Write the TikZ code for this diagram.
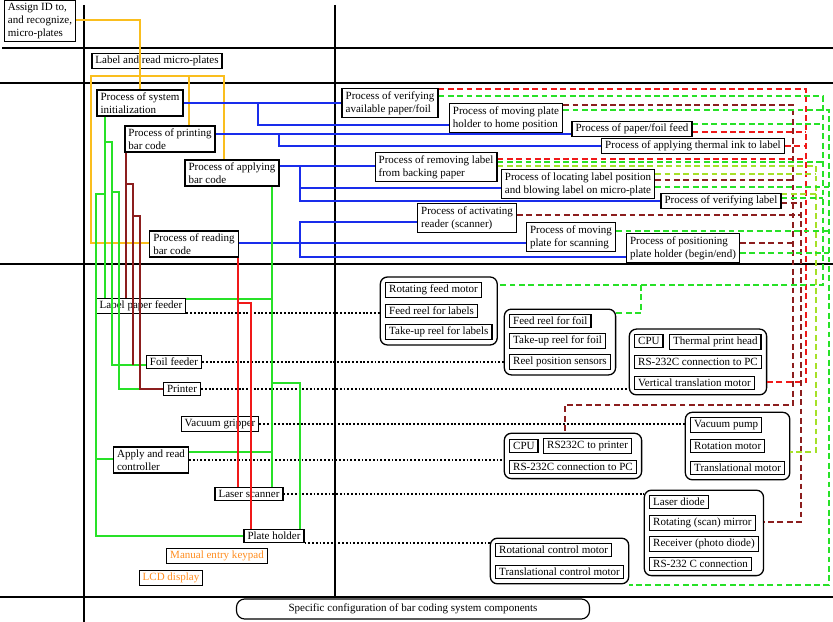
\documentclass[tikz,border=0pt]{standalone}
\usepackage{fontspec}
\setmainfont{Liberation Serif}
\usetikzlibrary{fit}
\definecolor{cOr}{RGB}{250,190,30}
\definecolor{cBl}{RGB}{25,45,235}
\definecolor{cGr}{RGB}{40,225,40}
\definecolor{cBr}{RGB}{140,30,30}
\definecolor{cRd}{RGB}{240,25,25}
\definecolor{cLi}{RGB}{165,225,40}
\definecolor{cKey}{RGB}{255,140,30}
\begin{document}
\begin{tikzpicture}[x=0.03cm,y=-0.03cm,
  every node/.style={font=\fontsize{9.4}{11.2}\selectfont},
  box/.style={draw,line width=1.1pt,inner xsep=3pt,inner ysep=2.2pt,align=left},
  item/.style={box,anchor=west},
  grp/.style={draw,line width=1.1pt,rounded corners=6pt,inner sep=4pt},
  rule/.style={line width=1.2pt},
  dot/.style={line width=2.2pt,dash pattern=on 1.6pt off 1.6pt},
  ln/.style={line width=1pt},
  dsh/.style={line width=1pt,dash pattern=on 5pt off 3pt}]
\useasboundingbox (0,0) rectangle (833,622);
% rules
\draw[rule] (84,5) -- (84,622);
\draw[rule] (335,5) -- (335,597);
\draw[rule] (2,48) -- (833,48);
\draw[rule] (0,83) -- (833,83);
\draw[rule] (0,264) -- (833,264);
\draw[rule] (0,597) -- (833,597);
\node[draw,line width=1pt,rounded corners=7pt,minimum width=353*0.03cm,minimum height=20*0.03cm] (spec) at (413,609) {Specific configuration of bar coding system components};
% top nodes
\node[box] (assign) at (40,21) {Assign ID to,\\and recognize,\\micro-plates};
\node[box] (label) at (157,61) {Label and read micro-plates};
\node[box] (sys) at (140,103) {Process of system\\initialization};
\node[box] (print) at (170,139) {Process of printing\\bar code};
\node[box] (apply) at (232,173) {Process of applying\\bar code};
\node[box] (read) at (194,244) {Process of reading\\bar code};
% right processes
\node[box] (verav) at (390,103) {Process of verifying\\available paper/foil};
\node[box] (home) at (506,118) {Process of moving plate\\holder to home position};
\node[box] (feed) at (632,129) {Process of paper/foil feed};
\node[box] (ink) at (693,146) {Process of applying thermal ink to label};
\node[box] (remove) at (436,167) {Process of removing label\\from backing paper};
\node[box] (locate) at (578,184) {Process of locating label position\\and blowing label on micro-plate};
\node[box] (verlab) at (721,201) {Process of verifying label};
\node[box] (activ) at (467,218) {Process of activating\\reader (scanner)};
\node[box] (mscan) at (571,237) {Process of moving\\plate for scanning};
\node[box] (posit) at (683,248) {Process of positioning\\plate holder (begin/end)};
% components
\node[box] (lpf) at (141,306) {Label paper feeder};
\node[box] (foil) at (174,362) {Foil feeder};
\node[box] (printer) at (182,389) {Printer};
\node[box] (vac) at (220,424) {Vacuum gripper};
\node[box] (arc) at (151,460) {Apply and read\\controller};
\node[box] (laser) at (249,494) {Laser scanner};
\node[box] (plate) at (274,536) {Plate holder};
\node[box,text=cKey] (key) at (217,556) {Manual entry keypad};
\node[box,text=cKey] (lcd) at (171,578) {LCD display};
% groups
\node[item] (a1) at (385,290) {Rotating feed motor};
\node[item] (a2) at (385,311) {Feed reel for labels};
\node[item] (a3) at (385,332) {Take-up reel for labels};
\node[grp,fit=(a1)(a2)(a3)] (g1) {};
\node[item] (b1) at (509,321) {Feed reel for foil};
\node[item] (b2) at (509,341) {Take-up reel for foil};
\node[item] (b3) at (509,362) {Reel position sensors};
\node[grp,fit=(b1)(b2)(b3)] (g2) {};
\node[item] (c1) at (634,341) {CPU};
\node[item] (c2) at (669,342) {Thermal print head};
\node[item] (c3) at (634,362) {RS-232C connection to PC};
\node[item] (c4) at (634,383) {Vertical translation motor};
\node[grp,fit=(c1)(c2)(c3)(c4)] (g3) {};
\node[item] (d1) at (509,446) {CPU};
\node[item] (d2) at (543,446) {RS232C to printer};
\node[item] (d3) at (509,467) {RS-232C connection to PC};
\node[grp,fit=(d1)(d2)(d3)] (g4) {};
\node[item] (e1) at (690,425) {Vacuum pump};
\node[item] (e2) at (690,446) {Rotation motor};
\node[item] (e3) at (690,468) {Translational motor};
\node[grp,fit=(e1)(e2)(e3)] (g5) {};
\node[item] (f1) at (649,502) {Laser diode};
\node[item] (f2) at (649,523) {Rotating (scan) mirror};
\node[item] (f3) at (649,544) {Receiver (photo diode)};
\node[item] (f4) at (649,564) {RS-232 C connection};
\node[grp,fit=(f1)(f2)(f3)(f4)] (g6) {};
\node[item] (h1) at (495,550) {Rotational control motor};
\node[item] (h2) at (495,572) {Translational control motor};
\node[grp,fit=(h1)(h2)] (g7) {};
% dotted
\draw[dot] (lpf.east|-0,313) -- (g1.west|-0,313);
\draw[dot] (foil.east) -- (g2.west|-foil.east);
\draw[dot] (printer.east) -- (g3.west|-printer.east);
\draw[dot] (vac.east) -- (g5.west|-vac.east);
\draw[dot] (arc.east|-0,460) -- (g4.west|-0,460);
\draw[dot] (laser.east) -- (g6.west|-laser.east);
\draw[dot] (plate.east|-0,543) -- (g7.west|-0,543);
% orange
\draw[ln,cOr] (assign.east|-0,20) -| (sys.north-|140,0);
\draw[ln,cOr] (read.west|-0,243) -| (91,76) -| (apply.north-|224,0);
\draw[ln,cOr] (189,76) -- (print.north-|189,0);
% blue
\draw[ln,cBl] (sys.east|-0,103) -- (verav.west|-0,103);
\draw[ln,cBl] (258,103) |- (home.west|-0,125);
\draw[ln,cBl] (print.east|-0,134) -- (feed.west|-0,134);
\draw[ln,cBl] (279,134) |- (ink.west|-0,146);
\draw[ln,cBl] (apply.east|-0,166) -- (remove.west|-0,166);
\draw[ln,cBl] (300,166) |- (locate.west|-0,188);
\draw[ln,cBl] (300,188) |- (verlab.west|-0,201);
\draw[ln,cBl] (read.east|-0,243) -- (mscan.west|-0,243);
\draw[ln,cBl] (activ.west|-0,222) -| (300,257) -- (posit.west|-0,257);
% green left
\draw[ln,cGr] (sys.south-|105,0) -- (lpf.north-|105,0);
\draw[ln,cGr] (105,142) -| (112,365) -- (foil.west|-0,365);
\draw[ln,cGr] (105,194) -| (96,536) -- (plate.west|-0,536);
\draw[ln,cGr] (96,459) -- (arc.west|-0,459);
\draw[ln,cGr] (112,192) -| (119,389) -- (printer.west);
\draw[ln,cGr] (apply.south-|272,0) -- (laser.north-|272,0);
\draw[ln,cGr] (lpf.east|-0,299) -- (272,299);
\draw[ln,cGr] (272,383) -| (plate.north-|300,0);
\draw[ln,cGr] (arc.east|-0,452) -- (272,452);
% brown left
\draw[ln,cBr] (print.south-|126,0) -- (lpf.north-|126,0);
\draw[ln,cBr] (126,184) -| (133,365);
\draw[ln,cBr] (133,216) -| (140,389) -- (printer.west);
% red left
\draw[ln,cRd] (read.south-|238,0) -- (laser.north-|238,0);
\draw[ln,cRd] (238,303) -| (plate.north-|251,0);
% red dashed bus
\draw[dsh,cRd] (verav.east|-0,89) -| (806,382) -- (g3.east|-0,382);
\draw[dsh,cRd] (feed.east|-0,132) -- (806,132);
\draw[dsh,cRd] (ink.east) -- (806,146);
\draw[dsh,cRd] (remove.east|-0,159) -- (806,159);
% brown dashed
\draw[dsh,cBr] (home.east|-0,105) -| (793,405) -| (g4.north-|565,0);
\draw[dsh,cBr] (locate.east|-0,180) -- (793,180);
\draw[dsh,cBr] (posit.east|-0,243) -- (793,243);
\draw[dsh,cBr] (verlab.east|-0,203) -| (801,522) -- (g6.east|-0,522);
\draw[dsh,cBr] (activ.east|-0,215) -- (801,215);
% lime dashed
\draw[dsh,cLi] (remove.east|-0,166) -| (816,452) -- (g5.east|-0,452);
\draw[dsh,cLi] (locate.east|-0,174) -- (816,174);
\draw[dsh,cLi] (verlab.east|-0,194) -- (816,194);
% green dashed
\draw[dsh,cGr] (verav.east|-0,96) -| (823,285) -- (g1.east|-0,285);
\draw[dsh,cGr] (feed.east|-0,124) -- (823,124);
\draw[dsh,cGr] (remove.east|-0,162) -- (823,162);
\draw[dsh,cGr] (verlab.east|-0,198) -- (823,198);
\draw[dsh,cGr] (641,285) |- (g2.east|-0,313);
\draw[dsh,cGr] (home.east|-0,110) -| (829,585) -- (g7.east|-0,585);
\draw[dsh,cGr] (locate.east|-0,187) -- (829,187);
\draw[dsh,cGr] (mscan.east|-0,231) -- (829,231);
\draw[dsh,cGr] (posit.east|-0,253) -- (829,253);
\end{tikzpicture}
\end{document}
